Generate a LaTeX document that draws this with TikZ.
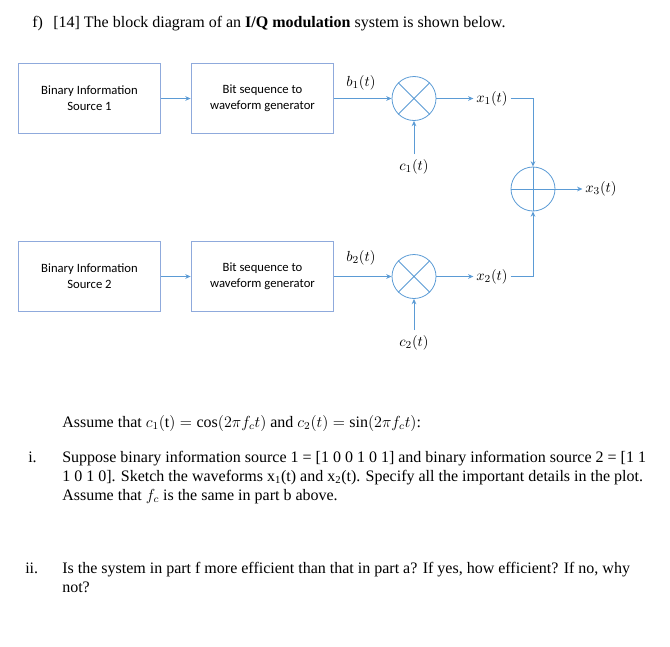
\documentclass[tikz,border=0pt]{standalone}
\usepackage{amsmath,amssymb}
\usepackage{fontspec}
\setmainfont{Liberation Serif}
\newfontfamily\calibrifont{Carlito}
\usetikzlibrary{arrows.meta}
\definecolor{sigblue}{RGB}{91,155,213}
\definecolor{boxblue}{RGB}{143,170,220}

\begin{document}
\begin{tikzpicture}[x=0.75pt, y=-0.75pt, every node/.style={font=\fontsize{12}{14}\selectfont},
	block/.style={draw=boxblue, line width=0.8pt, minimum width=107pt, minimum height=52.5pt, align=center, font=\calibrifont\fontsize{9.5}{12}\selectfont},
	mixer/.style={draw=sigblue, line width=0.6pt, circle, minimum size=33pt, inner sep=0pt},
	sig/.style={draw=sigblue, line width=0.7pt, -{Stealth[length=4pt, width=3.5pt]}},
	lbl/.style={font=\fontsize{11}{13}\selectfont, inner sep=2pt},
	qtext/.style={anchor=base west, inner sep=0pt}]
	\useasboundingbox (0,0) rectangle (670,646);
	\node[qtext] (fl) at (32,27) {f)};
	\node[qtext] (title) at (53,27) {[14] The block diagram of an \textbf{I/Q modulation} system is shown below.};
	% the two branches
	\foreach \i/\y/\by/\cy in {1/98.5/83/167, 2/276.5/258/343} {
		\node[block] (src\i) at (89.5,\y) {Binary Information\\Source \i};
		\node[block] (gen\i) at (262.5,\y) {Bit sequence to\\waveform generator};
		\node[mixer] (mul\i) at (414,\y) {};
		\draw[sigblue, line width=0.6pt] (mul\i.north west) -- (mul\i.south east) (mul\i.north east) -- (mul\i.south west);
		\node[lbl] (b\i) at (361,\by) {$b_\i(t)$};
		\node[lbl, inner sep=4pt] (c\i) at (414,\cy) {$c_\i(t)$};
		\node[lbl] (x\i) at (492,\y) {$x_\i(t)$};
		\draw[sig] (src\i) -- (gen\i);
		\draw[sig] (gen\i) -- (mul\i);
		\draw[sig] (c\i) -- (mul\i);
		\draw[sig] (mul\i) -- (x\i);
	}
	% adder
	\node[mixer] (add) at (533,189) {};
	\draw[sigblue, line width=0.6pt] (add.north) -- (add.south) (add.west) -- (add.east);
	\node[lbl] (x3) at (601,189) {$x_3(t)$};
	\draw[sig] (x1.east) -| (add.north);
	\draw[sig] (x2.east) -| (add.south);
	\draw[sig] (add) -- (x3);
	% questions
	\node[qtext] (assume) at (62,427) {Assume that $c_1(\mathrm{t})=\cos(2\pi f_c t)$ and $c_2(t)=\sin(2\pi f_c t)$:};
	\node[qtext] (li) at (28,462) {i.};
	\node[qtext] (qi1) at (62,462) {Suppose binary information source 1 = [1 0 0 1 0 1] and binary information source 2 = [1 1};
	\node[qtext] (qi2) at (62,481) {1 0 1 0]. Sketch the waveforms x\textsubscript{1}(t) and x\textsubscript{2}(t). Specify all the important details in the plot.};
	\node[qtext] (qi3) at (62,500) {Assume that $f_c$ is the same in part b above.};
	\node[qtext] (lii) at (25,573) {ii.};
	\node[qtext] (qii1) at (62,573) {Is the system in part f more efficient than that in part a? If yes, how efficient? If no, why};
	\node[qtext] (qii2) at (62,592) {not?};
\end{tikzpicture}
\end{document}
